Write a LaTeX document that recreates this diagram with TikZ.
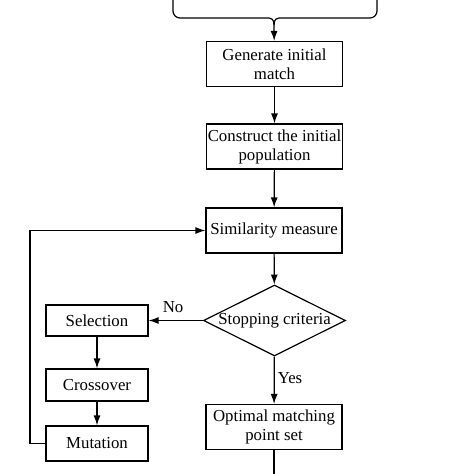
\documentclass[tikz,border=0pt]{standalone}
\usepackage{fontspec}
\setmainfont{Liberation Serif}
\usetikzlibrary{arrows.meta,positioning,shapes.geometric}
\tikzset{
    line color/.style={black},
    flow line/.style={line color,line width=1.2pt},
    arr/.style={flow line,-{Latex[length=10pt,width=7pt]}},
    step box/.style={draw,flow line,rectangle,align=center,inner sep=1pt,
        minimum width=136pt,minimum height=45pt},
    small box/.style={step box,minimum width=102pt,minimum height=32pt},
    decision/.style={draw,flow line,diamond,aspect=2,inner sep=0pt,
        minimum width=135pt,minimum height=67pt},
    edge label/.style={inner sep=1pt},
}
\tikzstyle{every node}=[font=\fontsize{16.8}{19}\selectfont]

\begin{document}
\begin{tikzpicture}[x=1pt,y=-1pt]
        \useasboundingbox (0,0) rectangle (474,474);
        % brace from the box above
        \coordinate (tip) at (274,25);
        \draw[flow line,rounded corners=7pt] (173,-4) -- (173,18) -- (262,18) .. controls (271,18) and (274,19) .. (tip);
        \draw[flow line,rounded corners=7pt] (377,-4) -- (377,18) -- (286,18) .. controls (277,18) and (274,19) .. (tip);

        \node[step box] (gen) at (274.5,64) {Generate initial\\match};
        \node[step box] (pop) at (274.5,146.5) {Construct the initial\\population};
        \node[step box] (sim) at (274,230.5) {Similarity measure};
        \node[decision] (stop) at (274.5,320.5) {Stopping criteria};
        \node[step box] (opt) at (274,427) {Optimal matching\\point set};

        \node[small box,minimum height=31pt] (sel) at (97,320.5) {Selection};
        \node[small box] (cross) at (97,385) {Crossover};
        \node[small box,minimum height=35pt] (mut) at (97,443.5) {Mutation};

        \draw[arr] (tip) -- (gen);
        \draw[arr] (gen) -- (pop);
        \draw[arr] (pop) -- (sim);
        \draw[arr] (sim) -- (stop);
        \draw[arr] (stop) -- (opt) node[pos=.45,right=2pt,edge label] {Yes};
        \draw[arr] (stop) -- (sel) node[pos=.55,above=6pt,edge label] {No};
        \draw[arr] (sel) -- (cross);
        \draw[arr] (cross) -- (mut);

        % loop back
        \coordinate (back) at (30,443.5);
        \draw[arr] (mut.west) -- (back) |- (sim.west);

        \coordinate (out) at (274,476);
        \draw[flow line] (opt) -- (out);
    \end{tikzpicture}
\end{document}
